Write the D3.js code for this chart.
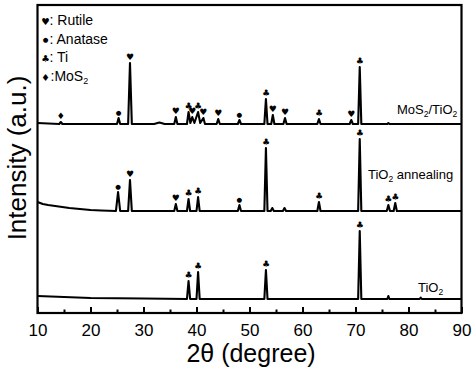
<!DOCTYPE html>
<html><head><meta charset="utf-8">
<script src="https://cdn.jsdelivr.net/npm/d3@7"></script>
<style>html,body{margin:0;padding:0;background:#fff;}</style>
</head><body>
<svg id="c" width="474" height="370"></svg>
<script>
// ---- data (2θ in degrees, intensity in a.u. relative to each pattern's baseline) ----
const xTicks = [10, 20, 30, 40, 50, 60, 70, 80, 90];
const xMinorTicks = [15, 25, 35, 45, 55, 65, 75, 85];

const seriesNames = ["TiO2", "TiO2 annealing", "MoS2/TiO2"];
const seriesOffsets = [14, 102, 189];

const tio2 = [[10,3],[15,2],[20,1],[30,0.5],[38.2,0],[38.5,18],[38.8,0],[40.0,0],[40.3,27],[40.6,0],
  [52.8,0],[53.1,29],[53.4,0],[70.5,0],[70.8,68],[71.1,0],[76.0,0],[76.2,3],[76.4,0],[82.1,0],[82.3,1.5],[82.5,0],[90,0]];

const tio2Annealing = [[10,9],[11,7],[12,6],[14,4.5],[16,3],[18,2],[20,1],[22,0.5],[24.8,0],[25.2,19],[25.6,0],
  [27.1,0],[27.45,31],[27.8,0],[35.8,0],[36.1,7],[36.4,0],[38.2,0],[38.5,12],[38.8,0],[40.0,0],[40.3,14],[40.6,0],
  [47.8,0],[48.1,6],[48.4,0],[52.8,0],[53.1,63],[53.4,0],[54.0,0],[54.3,3],[54.6,0],[56.3,0],[56.6,3],[56.9,0],
  [62.8,0],[63.1,9],[63.4,0],[70.5,0],[70.8,72],[71.1,0],[75.9,0],[76.2,6],[76.5,0],[77.2,0],[77.5,8],[77.8,0],[90,0]];

const mos2Tio2 = [[10,1],[14.1,0],[14.4,2],[14.7,0],[25.0,0],[25.3,6],[25.6,0],[27.1,0],[27.45,61],[27.8,0],
  [32,0],[33,1.5],[34,0],[35.8,0],[36.1,7],[36.4,0],[38.2,0],[38.5,12],[38.85,1],[39.2,7],[39.6,1],[40.3,12],[40.7,1],
  [41.3,6],[41.6,0],[43.8,0],[44.1,5],[44.4,0],[47.8,0],[48.1,4],[48.4,0],[52.8,0],[53.1,25],[53.4,0],[54.1,0],[54.4,9],[54.7,0],
  [56.4,0],[56.7,6],[57.0,0],[62.8,0],[63.1,5],[63.4,0],[68.9,0],[69.2,4],[69.5,0],[70.5,0],[70.8,57],[71.1,0],
  [76,0],[76.2,1],[76.4,0],[90,0]];

// phase markers: [2θ, phase]
const tio2Markers = [[38.5,"Ti"],[40.3,"Ti"],[53.1,"Ti"],[70.8,"Ti"]];
const annealingMarkers = [[25.2,"A"],[27.45,"R"],[36.1,"R"],[38.5,"Ti"],[40.3,"Ti"],[48.1,"A"],[53.1,"Ti"],[63.1,"Ti"],[70.8,"Ti"],[76.2,"Ti"],[77.5,"Ti"]];
const mos2Markers = [[14.4,"M"],[25.3,"A"],[27.45,"R"],[36.1,"R"],[38.5,"Ti"],[39.2,"R"],[40.3,"Ti"],[41.3,"R"],[44.1,"R"],[48.1,"A"],[53.1,"Ti"],[54.4,"R"],[56.7,"R"],[63.1,"Ti"],[69.2,"R"],[70.8,"Ti"]];

const legendLabels = [["R",": Rutile"],["A",": Anatase"],["Ti",": Ti"],["M",":MoS"]];
const symbols = {R:"\u2665", A:"\u25CF", Ti:"\u2663", M:"\u2666"};

// ---- drawing ----
const svg = d3.select("#c");
const x = d3.scaleLinear().domain([10, 90]).range([37.5, 461.5]);
const y = d3.scaleLinear().domain([0, 308]).range([313, 5]);

const allSeries = [tio2, tio2Annealing, mos2Tio2];
const allMarkers = [tio2Markers, annealingMarkers, mos2Markers];

const line = d3.line();
allSeries.forEach((s, i) => {
  const off = seriesOffsets[i];
  svg.append("path")
    .attr("d", line(s.map(d => [x(d[0]), y(d[1] + off)])))
    .attr("fill", "none").attr("stroke", "#000")
    .attr("stroke-width", 2.1).attr("stroke-linejoin", "round");
});

// markers
allMarkers.forEach((ms, i) => {
  const s = allSeries[i], off = seriesOffsets[i];
  ms.forEach(m => {
    const top = d3.max(s.filter(d => Math.abs(d[0] - m[0]) < 0.35), d => d[1]) || 0;
    const fs = m[1] === "A" ? 6.5 : 9;
    svg.append("text")
      .attr("x", x(m[0])).attr("y", y(top + off) - 3)
      .attr("text-anchor", "middle")
      .attr("font-family", "DejaVu Sans").attr("font-size", fs)
      .text(symbols[m[1]]);
  });
});

// frame
svg.append("rect").attr("x", 37.5).attr("y", 5).attr("width", 424).attr("height", 308)
  .attr("fill", "none").attr("stroke", "#000").attr("stroke-width", 2.2);

// axes
const ax = svg.append("g").attr("transform", "translate(0,313)")
  .call(d3.axisBottom(x).tickValues(xTicks).tickSize(-6).tickPadding(11).tickFormat(d3.format("d")));
ax.select(".domain").remove();
ax.selectAll(".tick line").attr("stroke-width", 2);
ax.selectAll("text").attr("font-family", "Liberation Sans, Arial, sans-serif").attr("font-size", 17).attr("fill", "#000");
const axm = svg.append("g").attr("transform", "translate(0,313)")
  .call(d3.axisBottom(x).tickValues(xMinorTicks).tickSize(-3.5).tickFormat(""));
axm.select(".domain").remove();
axm.selectAll(".tick line").attr("stroke-width", 2);

// axis titles
svg.append("text").attr("x", 251).attr("y", 362).attr("text-anchor", "middle")
  .attr("font-family", "Liberation Sans, Arial, sans-serif").attr("font-size", 25).text("2\u03B8 (degree)");
svg.append("text").attr("transform", "translate(26,158) rotate(-90)").attr("text-anchor", "middle")
  .attr("font-family", "Liberation Sans, Arial, sans-serif").attr("font-size", 26).text("Intensity (a.u.)");

// legend
legendLabels.forEach((l, i) => {
  const by = 25 + i * 18.5;
  svg.append("text").attr("x", 45.5).attr("y", by - (l[0] === "A" ? 2 : 0)).attr("text-anchor", "middle")
    .attr("font-family", "DejaVu Sans").attr("font-size", l[0] === "A" ? 6.5 : 9.5).text(symbols[l[0]]);
  const t = svg.append("text").attr("x", l[0] === "M" ? 50.5 : 49.5).attr("y", by)
    .attr("font-family", "Liberation Sans, Arial, sans-serif").attr("font-size", 14).text(l[1]);
  if (l[0] === "M") t.append("tspan").attr("font-size", 9).attr("dy", 3).text("2");
});

// series labels
function subLabel(xp, yp, parts) {
  const t = svg.append("text").attr("x", xp).attr("y", yp)
    .attr("font-family", "Liberation Sans, Arial, sans-serif").attr("font-size", 13);
  parts.forEach(p => {
    if (p[1]) t.append("tspan").attr("font-size", 8.5).attr("dy", 3).text(p[0]);
    else t.append("tspan").attr("dy", p[2] || 0).text(p[0]);
  });
}
subLabel(397, 114, [["MoS",0],["2",1],["/TiO",0,-3],["2",1]]);
subLabel(368, 179, [["TiO",0],["2",1],[" annealing",0,-3]]);
subLabel(418, 292, [["TiO",0],["2",1]]);
</script>
</body></html>
